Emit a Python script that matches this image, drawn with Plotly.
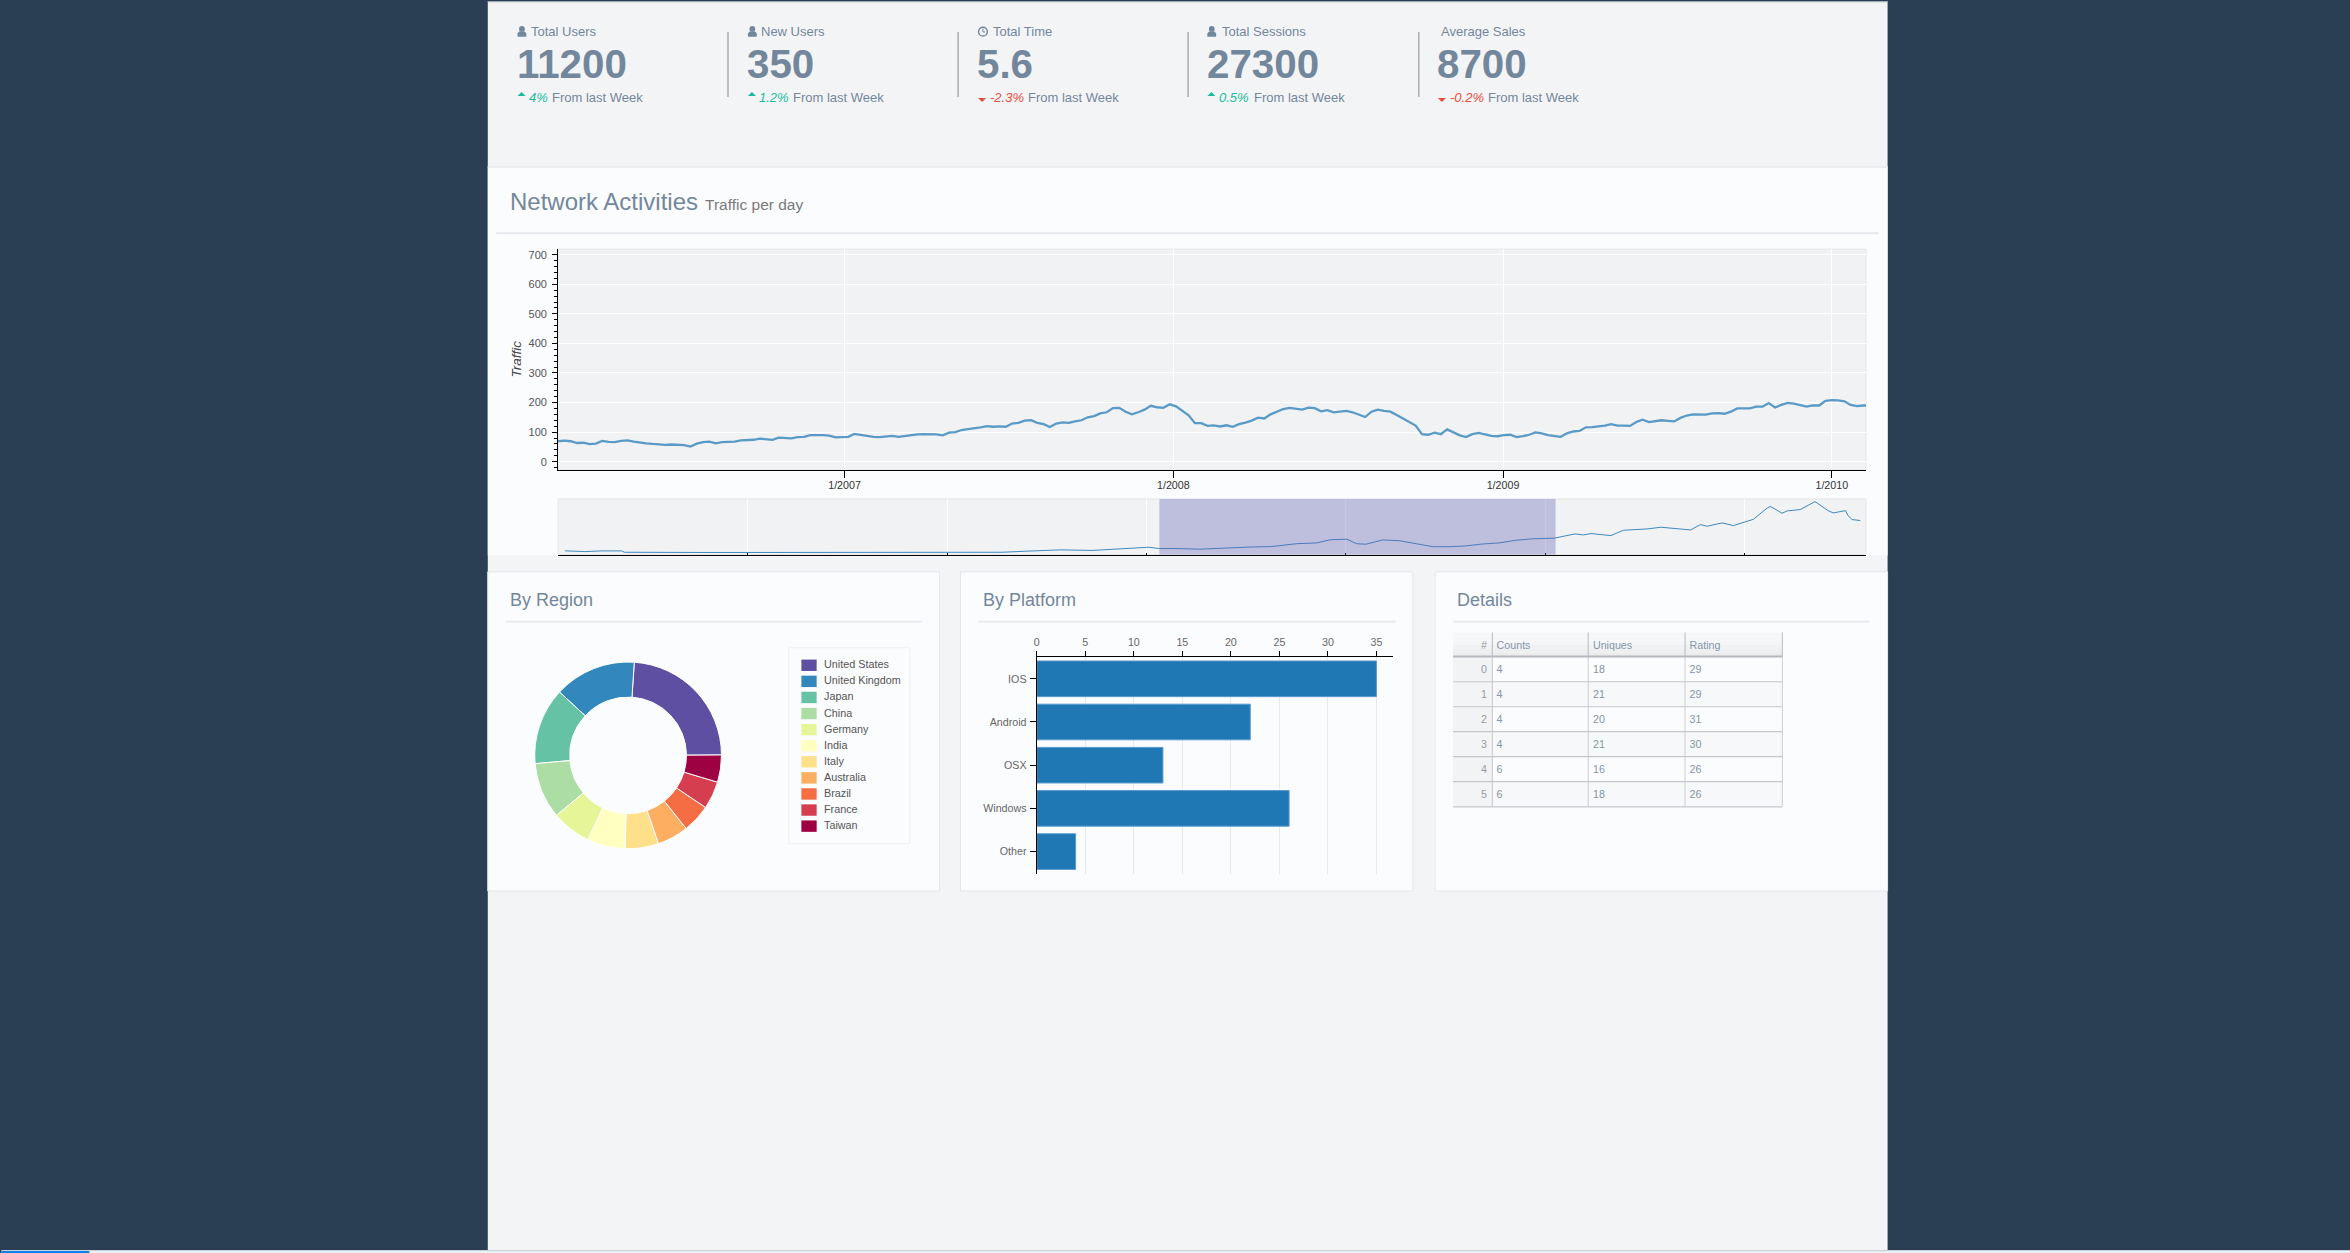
import pandas as pd
import plotly.graph_objects as go

W, H = 2350, 1253
FONT = "Liberation Sans"
SIDEBAR = "#2A3F54"
BODY = "#F3F4F6"
PANEL = "#FBFCFE"
RULE = "#E6E8ED"
TEXT = "#73879C"
GREEN = "#1ABB9C"
RED = "#E74C3C"
DX = -1.6  # page-wide horizontal correction
NOTE_DX = -0.7  # glyph side bearing of the annotation text

# ---------------- data ----------------
tile_labels = ["Total Users", "New Users", "Total Time", "Total Sessions", "Average Sales"]
tile_numbers = ["11200", "350", "5.6", "27300", "8700"]
tile_changes = ["4%", "1.2%", "-2.3%", "0.5%", "-0.2%"]

traffic_dates = pd.date_range("2006-02-17", periods=209, freq="7D")
traffic_values = [
    69, 71, 69, 63, 64, 59, 61, 70, 67, 66, 70, 72, 68, 64, 62, 60, 58, 57, 58, 57, 56, 51, 61, 66, 68, 62,
    66, 67, 68, 72, 73, 74, 78, 76, 74, 81, 81, 79, 83, 84, 90, 91, 90, 88, 82, 83, 84, 94, 91, 86, 84, 83,
    84, 87, 84, 87, 89, 92, 93, 93, 92, 89, 98, 100, 107, 110, 112, 116, 120, 118, 119, 118, 129, 131, 139,
    140, 131, 127, 117, 129, 133, 131, 136, 140, 150, 154, 163, 167, 181, 182, 169, 160, 167, 176, 189, 184,
    182, 194, 187, 172, 157, 130, 130, 121, 123, 119, 123, 118, 127, 132, 139, 149, 146, 160, 169, 178, 182,
    180, 176, 183, 181, 170, 174, 167, 169, 172, 167, 158, 151, 169, 176, 172, 169, 158, 146, 133, 122, 93,
    91, 98, 93, 109, 100, 89, 83, 93, 97, 93, 87, 86, 90, 91, 83, 86, 91, 99, 96, 90, 88, 84, 96, 102, 104,
    116, 117, 119, 122, 127, 122, 122, 121, 134, 142, 134, 136, 140, 138, 136, 148, 156, 160, 160, 159, 163,
    164, 162, 169, 180, 179, 180, 186, 186, 198, 183, 192, 199, 196, 192, 186, 190, 190, 206, 208, 207, 204,
    192, 188, 190, 190,
]
overview_dates = [
    "2000-03-01", "2000-05-15", "2000-07-15", "2000-09-25", "2000-10-05", "2001-01-05", "2001-07-05", "2002-01-05",
    "2002-07-05", "2003-01-05", "2003-07-05", "2004-01-05", "2004-07-20", "2004-10-15", "2005-02-20", "2005-06-15",
    "2005-10-10", "2006-01-10", "2006-02-17", "2006-04-15", "2006-07-15", "2006-10-01", "2007-01-05", "2007-04-05",
    "2007-07-05", "2007-09-15", "2007-11-05", "2008-01-05", "2008-02-10", "2008-03-15", "2008-05-15", "2008-07-15",
    "2008-09-01", "2008-11-15", "2009-01-15", "2009-03-15", "2009-05-15", "2009-07-15", "2009-09-15", "2009-11-15",
    "2010-02-03", "2010-04-20", "2010-05-22", "2010-06-18", "2010-07-25", "2010-08-30", "2010-10-15", "2011-01-12",
    "2011-03-01", "2011-04-15", "2011-06-18", "2011-07-24", "2011-08-18", "2011-09-24", "2011-10-12", "2011-11-22",
    "2012-01-05", "2012-02-03", "2012-03-25", "2012-04-05", "2012-04-22", "2012-05-18", "2012-06-06", "2012-07-24",
    "2012-09-16", "2012-11-03", "2012-11-22", "2013-01-06", "2013-01-15", "2013-01-30", "2013-03-01",
]
overview_values = [
    35, 25, 34, 34, 16, 12, 13, 13, 12, 10, 13, 13, 16, 30, 48, 40, 61, 83, 65, 66, 57, 72, 84, 92, 130, 140,
    182, 190, 130, 123, 180, 170, 140, 90, 90, 100, 125, 140, 175, 195, 203, 260, 247, 265, 251, 238, 309, 327,
    349, 335, 313, 384, 362, 393, 406, 371, 420, 454, 606, 624, 593, 535, 566, 584, 690, 570, 539, 570, 504, 451, 438,
]
overview_ticks = ["2002-01-01", "2004-01-01", "2006-01-01", "2008-01-01", "2010-01-01", "2012-01-01"]
year_ticks = ["2007-01-01", "2008-01-01", "2009-01-01", "2010-01-01"]
year_labels = ["1/2007", "1/2008", "1/2009", "1/2010"]

regions = ["United States", "United Kingdom", "Japan", "China", "Germany", "India", "Italy", "Australia", "Brazil", "France", "Taiwan"]
region_values = [23.9, 14.2, 13.3, 9.7, 6.8, 6.6, 5.8, 5.4, 4.9, 4.8, 4.7]
region_colors = ["#5e4fa2", "#3288bd", "#66c2a5", "#abdda4", "#e6f598", "#ffffbf", "#fee08b", "#fdae61", "#f46d43", "#d53e4f", "#9e0142"]

platforms = ["IOS", "Android", "OSX", "Windows", "Other"]
platform_values = [35, 22, 13, 26, 4]

table_index = ["0", "1", "2", "3", "4", "5"]
table_counts = [4, 4, 4, 4, 6, 6]
table_uniques = [18, 21, 20, 21, 16, 18]
table_rating = [29, 29, 31, 30, 26, 26]


# ---------------- helpers (page pixels -> paper fractions) ----------------
def px(x):
    return (x + DX) / W


def py(y):
    return 1 - y / H


shapes = []
notes = []


def rect(x0, y0, x1, y1, fill, line=None, lw=1):
    shapes.append(dict(type="rect", xref="paper", yref="paper", x0=px(x0), x1=px(x1), y0=py(y0), y1=py(y1),
                       fillcolor=fill, line=dict(color=line or "rgba(0,0,0,0)", width=lw if line else 0), layer="below"))


def seg(x0, y0, x1, y1, color, lw=1, dash="solid", layer="below"):
    shapes.append(dict(type="line", xref="paper", yref="paper", x0=px(x0), x1=px(x1), y0=py(y0), y1=py(y1),
                       line=dict(color=color, width=lw, dash=dash), layer=layer))


def poly(points, fill):
    d = "M" + " L".join(f"{px(a):.5f},{py(b):.5f}" for a, b in points) + " Z"
    shapes.append(dict(type="path", xref="paper", yref="paper", path=d, fillcolor=fill, line=dict(width=0), layer="below"))


def disc(cx, cy, r, fill, line=None, lw=1):
    shapes.append(dict(type="circle", xref="paper", yref="paper", x0=px(cx - r), x1=px(cx + r), y0=py(cy + r), y1=py(cy - r),
                       fillcolor=fill, line=dict(color=line or "rgba(0,0,0,0)", width=lw if line else 0), layer="below"))


def note(x, y, text, size, color, bold=False, italic=False, anchor="left", angle=0):
    if bold:
        text = f"<b>{text}</b>"
    if italic:
        text = f"<i>{text}</i>"
    notes.append(dict(xref="paper", yref="paper", x=px(x + NOTE_DX), y=py(y), text=text, showarrow=False, xanchor=anchor, yanchor="middle",
                      font=dict(family=FONT, size=size, color=color), borderpad=0, borderwidth=0, textangle=angle))


def user_icon(x):
    disc(x + 4.4, 27.9, 2.9, TEXT)
    poly([(x, 35.7), (x, 32.5), (x + 1.5, 30.6), (x + 7.3, 30.6), (x + 8.8, 32.5), (x + 8.8, 35.7)], TEXT)


def clock_icon(x):
    disc(x + 4.8, 30.7, 4.4, "rgba(0,0,0,0)", TEXT, 1.4)
    seg(x + 4.8, 27.6, x + 4.8, 31, TEXT, 1)
    seg(x + 4.8, 31, x + 7, 31, TEXT, 1)


# ---------------- page background ----------------
CONTENT_R = 1888.6
rect(0, 0, W + 5, H, SIDEBAR)
rect(487, 0, CONTENT_R, 1250, BODY)
rect(487, 0, CONTENT_R, 1.2, "#A2ACB6")
rect(0, 1250, W + 5, 1251, "#CBD0D8")
rect(0, 1251, W + 5, H, "#E8F0F6")
rect(0, 1251, 88, H, "#0D80F2")

# ---------------- stat tiles ----------------
tile_x = [516.8, 747.5, 978, 1207.5, 1438.3]
label_x = [531, 761, 993.2, 1222.5, 1442.5]
pct_x = [529.3, 759.3, 990.4, 1220.1, 1451]
rest_x = [552.5, 793.2, 1028.9, 1254.9, 1489.3]
for i in range(5):
    note(label_x[i], 30.5, tile_labels[i], 13, TEXT)
    note(tile_x[i], 64, tile_numbers[i], 40.3, TEXT, bold=True)
    up = not tile_changes[i].startswith("-")
    x0 = tile_x[i]
    if up:
        poly([(x0, 95), (x0 + 8, 95), (x0 + 4, 91)], GREEN)
    else:
        poly([(x0, 97), (x0 + 8, 97), (x0 + 4, 101)], RED)
    note(pct_x[i], 96.5, tile_changes[i], 13, GREEN if up else RED, italic=True)
    note(rest_x[i], 96.5, "From last Week", 13, TEXT)
for i in (0, 1, 3):
    user_icon(tile_x[i])
clock_icon(tile_x[2])
for x in (727.5, 957.9, 1188.2, 1419.2):
    seg(x, 31, x, 96, "#ADB2B5", 1.6)

# ---------------- network panel ----------------
rect(487, 166, CONTENT_R, 555, PANEL)
rect(487, 165.5, CONTENT_R, 167, RULE)
note(510.4, 200.7, "Network Activities", 24, TEXT)
note(705, 203.5, "Traffic per day", 15.5, "#7A7A7A")
rect(495.4, 231.5, 1879.5, 233.5, RULE)

MAIN_L, MAIN_R, MAIN_T, MAIN_B = 557.4, 1867, 248.3, 469.3
NAV_T, NAV_B = 498.3, 554
rect(MAIN_L, MAIN_T, MAIN_R, MAIN_B, "#F1F2F4", "#E4E6E9", 1)
rect(MAIN_L, NAV_T, MAIN_R, NAV_B, "#F1F2F4", "#E4E6E9", 1)
note(516.8, 358, "Traffic", 13.5, "#444444", italic=True, anchor="center", angle=-90)

# ---------------- lower panels ----------------
panels = [(487, 939.3), (960.3, 1413.3), (1435.5, CONTENT_R)]
panel_titles = ["By Region", "By Platform", "Details"]
title_x = [510.3, 983.3, 1458.5]
rules = [(505, 922), (978, 1396), (1453.5, 1870.5)]
for (a, b), t, tx, (r0, r1) in zip(panels, panel_titles, title_x, rules):
    rect(a, 571.3, b, 890.7, PANEL, "#E4E6EB", 1)
    note(tx, 599, t, 18, TEXT)
    rect(r0, 620.2, r1, 622, RULE)

# legend of the donut
rect(788.3, 647.3, 909.7, 843.3, PANEL, "#EEF0F3", 1)
for i, (name, col) in enumerate(zip(regions, region_colors)):
    y = 664.8 + i * 16.1
    rect(801, y - 5.7, 816.3, y + 5.7, col)
    note(824.3, y - 1, name, 10.8, "#555555")

# table furniture
TB_L, TB_1, TB_2, TB_3, TB_R = 1453.5, 1492.8, 1588.8, 1685.8, 1783.2
grad = ["#F6F7F8", "#F6F7F8", "#F5F6F7", "#F1F2F4", "#EEEFF1", "#EBECEE"]
for i, c in enumerate(grad):
    rect(TB_L, 632 + i * 4, TB_R, 636 + i * 4, c)
row_tops = [656 + 25 * i for i in range(6)]
for i, y in enumerate(row_tops):
    rect(TB_L, y, TB_1, y + 25, "#F2F3F5" if i % 2 == 0 else "#F3F4F6")
    rect(TB_1, y, TB_R, y + 25, PANEL if i % 2 == 0 else "#F7F8F9")
for x in (TB_1, TB_2, TB_3, TB_R):
    seg(x, 632, x, 656, "#B8BBC0", 1, layer="above")
for x in (TB_2, TB_3, TB_R):
    seg(x, 656, x, 806.3, "#9DA1A6", 1, dash="1px,1px", layer="above")
seg(TB_1, 656, TB_1, 806.3, "#C2C5C9", 1, layer="above")
seg(TB_L, 656, TB_R, 656, "#B5B8BD", 2, layer="above")
for y in row_tops[1:] + [806.3]:
    seg(TB_L, y + 0.3, TB_R, y + 0.3, "#C3C6CB", 1.2, layer="above")

# ---------------- figure ----------------
fig = go.Figure()

fig.add_trace(go.Scatter(x=traffic_dates, y=traffic_values, mode="lines", xaxis="x", yaxis="y", showlegend=False,
                         line=dict(color="rgba(31,119,180,0.72)", width=2.3)))
fig.add_trace(go.Scatter(x=overview_dates, y=overview_values, mode="lines", xaxis="x2", yaxis="y2", showlegend=False,
                         line=dict(color="rgba(31,119,180,0.85)", width=1)))
fig.add_trace(go.Pie(labels=regions, values=region_values, hole=0.625, sort=False, direction="counterclockwise", rotation=3.8,
                     textinfo="none", showlegend=False,
                     marker=dict(colors=region_colors, line=dict(color="#FFFFFF", width=1)),
                     domain=dict(x=[px(627.5 - 93.5), px(627.5 + 93.5)], y=[py(755 + 93.5), py(755 - 93.5)])))
fig.add_trace(go.Bar(y=platforms, x=platform_values, orientation="h", xaxis="x3", yaxis="y3", showlegend=False, width=0.825,
                     marker=dict(color="#1f77b4", line=dict(color="#5A9BD0", width=1))))

clear = "rgba(0,0,0,0)"
tfont = dict(family=FONT, size=10.7, color="#979CA2")
fig.add_trace(go.Table(
    domain=dict(x=[px(TB_L), px(1496.5)], y=[py(806.5), py(632)]),
    header=dict(values=["#"], align="right", height=24, fill=dict(color=clear), line=dict(width=0, color=clear), font=tfont),
    cells=dict(values=[table_index], align="right", height=25, fill=dict(color=clear), line=dict(width=0, color=clear), font=tfont),
))
vfont = dict(family=FONT, size=10.7, color="#8496A8")
fig.add_trace(go.Table(
    domain=dict(x=[px(1489.1), px(TB_R - 2)], y=[py(806.5), py(632)]),
    columnwidth=[96.7, 97, 98.4],
    header=dict(values=["Counts", "Uniques", "Rating"], align="left", height=24, fill=dict(color=clear), line=dict(width=0, color=clear), font=vfont),
    cells=dict(values=[table_counts, table_uniques, table_rating], align="left", height=25, fill=dict(color=clear), line=dict(width=0, color=clear), font=vfont),
))

# selection band on the overview, above its grid lines as in the reference
shapes.append(dict(type="rect", xref="x2", yref="y2 domain", x0="2006-02-17", x1="2010-02-08", y0=0, y1=1,
                   fillcolor="rgba(100,100,180,0.36)", line=dict(width=0), layer="above"))

tick_font = dict(family=FONT, size=11, color="#555555")
fig.update_layout(
    width=W, height=H, margin=dict(l=0, r=0, t=0, b=0), autosize=False,
    paper_bgcolor=SIDEBAR, plot_bgcolor="rgba(0,0,0,0)",
    font=dict(family=FONT), shapes=shapes, annotations=notes, bargap=0.175,
    xaxis=dict(domain=[px(MAIN_L), px(MAIN_R)], anchor="y", type="date", range=["2006-02-17", "2010-02-08"],
               tickmode="array", tickvals=year_ticks, ticktext=year_labels, ticks="outside", ticklen=7, tickcolor="#000000",
               tickfont=dict(family=FONT, size=10.7, color="#333333"), showline=True, linecolor="#000000", linewidth=1,
               showgrid=True, gridcolor="#FFFFFF", gridwidth=1, zeroline=False, ticklabelstandoff=-2),
    yaxis=dict(domain=[py(MAIN_B), py(MAIN_T)], anchor="x", range=[-28, 719], dtick=100, tick0=0, ticks="outside", ticklen=5,
               tickcolor="#000000", tickfont=tick_font, showline=True, linecolor="#000000", linewidth=1, showgrid=True,
               gridcolor="#FFFFFF", gridwidth=1, zeroline=False, ticklabelstandoff=3,
               minor=dict(dtick=20, tick0=0, ticks="outside", ticklen=3, tickcolor="#000000", showgrid=False)),
    xaxis2=dict(domain=[px(MAIN_L), px(MAIN_R)], anchor="y2", type="date", range=["2000-02-05", "2013-03-22"], tickmode="array",
                tickvals=overview_ticks, ticks="inside", ticklen=2, tickcolor="#000000", showticklabels=False, showline=True,
                linecolor="#000000", linewidth=1, showgrid=True, gridcolor="#FFFFFF", gridwidth=1, zeroline=False),
    yaxis2=dict(domain=[py(NAV_B), py(NAV_T)], anchor="x2", range=[-14.6, 726], showticklabels=False, ticks="", showgrid=False,
                showline=False, zeroline=False),
    xaxis3=dict(domain=[px(1036.7), px(1393.3)], anchor="y3", side="top", range=[0, 36.7], dtick=5, tick0=0, ticks="outside", ticklen=5,
                tickcolor="#000000", tickfont=dict(family=FONT, size=10.7, color="#666666"), showline=True, linecolor="#000000", linewidth=1.2,
                showgrid=True, gridcolor="#E8E9EC", gridwidth=1, zeroline=False),
    yaxis3=dict(domain=[py(873.3), py(656.3)], anchor="x3", type="category", categoryorder="array", categoryarray=platforms,
                range=[4.51, -0.51], ticks="outside", ticklen=6, tickcolor="#000000", tickfont=dict(family=FONT, size=10.7, color="#666666"),
                showline=True, linecolor="#000000", linewidth=1.2, showgrid=False, zeroline=False, ticklabelstandoff=1),
)

fig.write_html("out.html", config=dict(displayModeBar=False),
               post_script="document.body.style.margin='0';document.body.style.overflow='hidden';")
